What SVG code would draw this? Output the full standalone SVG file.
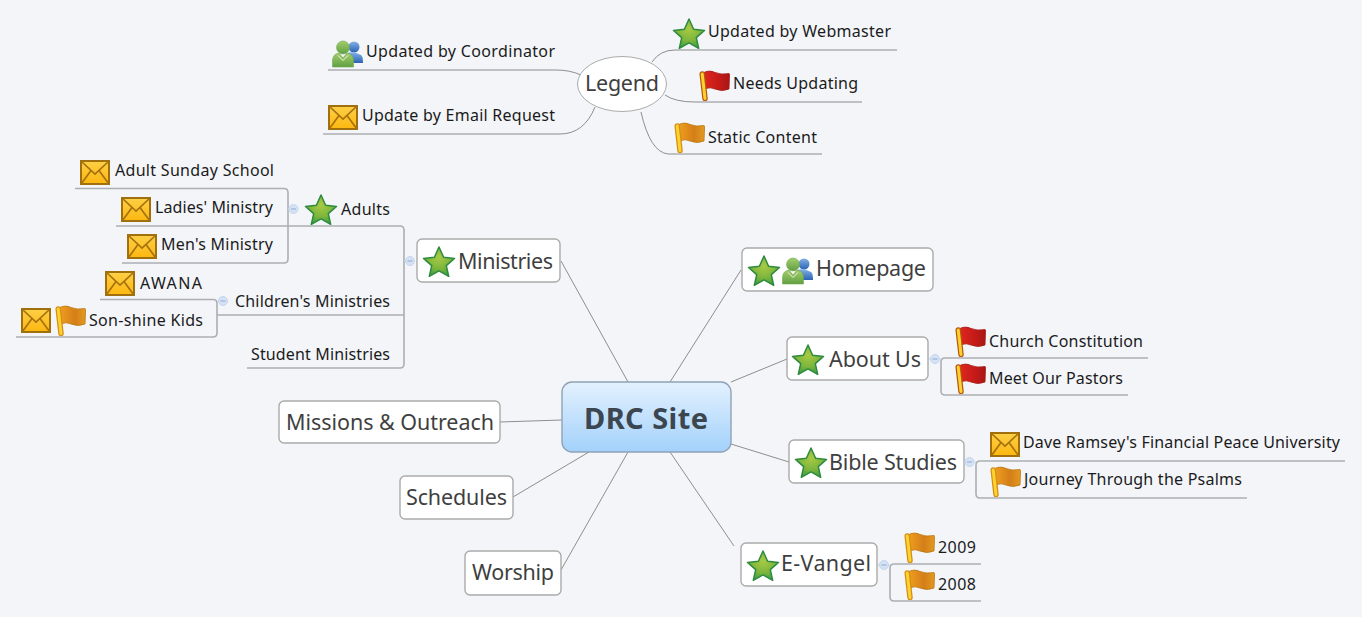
<svg xmlns="http://www.w3.org/2000/svg" width="1362" height="617" viewBox="0 0 1362 617">
<style>
text{font-family:"Noto Sans","Open Sans","Liberation Sans",sans-serif;fill:#1b1b1b;font-size:16px}
.t{font-size:21.500px;fill:#3f3f3f}
.c{font-size:29px;font-weight:700;fill:#3c4650}
.b{fill:#fff;stroke:#ababab;stroke-width:1.400}
.l{fill:none;stroke:#adaeb2;stroke-width:1.600}
.s{fill:none;stroke:#8e8e8e;stroke-width:1}
.k{fill:none;stroke:#c4d6ee;stroke-width:1}
.cl{fill:#d5e2f4;stroke:#c4d6ee;stroke-width:1}
.m{stroke:#8fa9cf;stroke-width:1}
</style>
<defs>
<linearGradient id="gc" x1="0" y1="0" x2="0" y2="1"><stop offset="0" stop-color="#e3f1fe"/><stop offset="1" stop-color="#a3d1fb"/></linearGradient>
<radialGradient id="gs" cx=".5" cy=".35" r=".65"><stop offset="0" stop-color="#a9c945"/><stop offset=".6" stop-color="#7db63c"/><stop offset="1" stop-color="#3f9f42"/></radialGradient>
<linearGradient id="ge" x1="0" y1="0" x2="0" y2="1"><stop offset="0" stop-color="#fdcf47"/><stop offset="1" stop-color="#fdb70f"/></linearGradient>
<linearGradient id="gr" x1="0" y1="0" x2="1" y2="0"><stop offset="0" stop-color="#e0281f"/><stop offset=".6" stop-color="#c41a18"/><stop offset="1" stop-color="#a91616"/></linearGradient>
<linearGradient id="go" x1="0" y1="0" x2="1" y2="0"><stop offset="0" stop-color="#f0a020"/><stop offset=".6" stop-color="#d47e18"/><stop offset="1" stop-color="#e39a22"/></linearGradient>
<linearGradient id="gp" x1="0" y1="0" x2="0" y2="1"><stop offset="0" stop-color="#a5cd6c"/><stop offset="1" stop-color="#5fa043"/></linearGradient>
<linearGradient id="gb" x1="0" y1="0" x2="0" y2="1"><stop offset="0" stop-color="#82b1e6"/><stop offset="1" stop-color="#2b62b4"/></linearGradient>
<symbol id="star" viewBox="0 0 32 32" overflow="visible"><path d="M16 1L20.600 11.200 31.500 12.400 23.300 19.600 25.700 30.300 16 24.800 6.300 30.300 8.700 19.600 .5 12.400 11.400 11.200Z" fill="url(#gs)" stroke="#2e8a3e" stroke-width="1.500" stroke-linejoin="round"/></symbol>
<symbol id="env" viewBox="0 0 30 25"><rect x="1" y="1" width="28" height="23" fill="url(#ge)" stroke="#a0700f" stroke-width="2"/><path d="M1.500 1.500L15 14 28.500 1.500M1.500 23.500L11 10.500M28.500 23.500L19 10.500" fill="none" stroke="#a5720e" stroke-width="1.700"/></symbol>
<symbol id="fr" viewBox="0 0 31 31"><path d="M4 3Q10 -.5 16 2.500Q22 5 30 3.500Q31 3.500 30.500 6L30 19Q23 22 16 19Q11 16.800 7 18.500Z" fill="url(#gr)" stroke="#a51a14" stroke-width=".8"/><path d="M6 28.500L3.200 4" stroke="#b8560f" stroke-width="5.500" stroke-linecap="round" fill="none"/><path d="M6 28.500L3.200 4" stroke="#fcd22e" stroke-width="3" stroke-linecap="round" fill="none"/></symbol>
<symbol id="fo" viewBox="0 0 31 31"><path d="M4 3Q10 -.5 16 2.500Q22 5 30 3.500Q31 3.500 30.500 6L30 19Q23 22 16 19Q11 16.800 7 18.500Z" fill="url(#go)" stroke="#b9770f" stroke-width=".8"/><path d="M6 28.500L3.200 4" stroke="#d58d14" stroke-width="5.500" stroke-linecap="round" fill="none"/><path d="M6 28.500L3.200 4" stroke="#fcd22e" stroke-width="3" stroke-linecap="round" fill="none"/></symbol>
<symbol id="ppl" viewBox="0 0 31 28"><circle cx="22" cy="7" r="5.500" fill="url(#gb)"/><path d="M15 13Q22 11 29 15Q31 16 31 23L19 23Z" fill="url(#gb)"/><circle cx="11" cy="7.500" r="6.500" fill="url(#gp)" stroke="#6fa84a" stroke-width=".6"/><path d="M.5 27L.5 20Q1 14 7 13L11 18 15 13Q21 14 21.500 20L21.500 27Z" fill="url(#gp)" stroke="#6fa84a" stroke-width=".6"/><path d="M6 15.500L11 20.500 16 15.500" fill="none" stroke="#eef5e0" stroke-width="1"/></symbol>
</defs>
<rect width="1362" height="617" fill="#f3f5f9"/>
<g id="connectors">
<path class="s" d="M628 382L561 261M670 382L741 270M731 382L787 359M731 444L789 462M670 452L734 546M628 452L561 570M589 452L513 497M562 420L500 422"/>
<path class="l" d="M75 188.500H284Q288 188.500 288 192.500V259Q288 263 284 263H122"/>
<path class="l" d="M116 226H400Q404 226 404 230V364Q404 368 400 368H247"/>
<path class="l" d="M217 315H404"/>
<path class="l" d="M100 299.500H213Q217 299.500 217 303.500V333Q217 337 213 337H16"/>
<path class="l" d="M1148 358H945Q941 358 941 362V391Q941 395 945 395H1128"/>
<path class="l" d="M1345 461H980Q976 461 976 465V494Q976 498 980 498H1247"/>
<path class="l" d="M981 564H894Q890 564 890 568V597Q890 601 894 601H981"/>
<path class="l" d="M328 70H556"/><path class="s" d="M556 70Q570 70 581 75"/>
<path class="l" d="M323 134H560"/><path class="s" d="M560 134Q584 134 595 107"/>
<path class="l" d="M897 50H675"/><path class="s" d="M675 50Q660 50 652 62"/>
<path class="l" d="M862 102H695"/><path class="s" d="M695 102Q675 102 665 95"/>
<path class="l" d="M822 154H668"/><path class="s" d="M668 154Q650 152 641 112"/>
<path class="k" d="M288 209H298M404 261H415M217 301H228M928 359H941M964 462H976M877 565H890"/>
</g>
<g id="drc-site"><rect x="562" y="382" width="169" height="70" rx="10" fill="url(#gc)" stroke="#8fa3b5" stroke-width="1.400"/><text class="c" x="646" y="429" text-anchor="middle" textLength="124">DRC Site</text></g>
<g id="ministries"><rect class="b" x="417" y="239" width="143" height="43" rx="5"/><use href="#star" x="423" y="246" width="32" height="32"/><text class="t" x="458" y="269" textLength="95">Ministries</text></g>
<g id="homepage"><rect class="b" x="742" y="248" width="191" height="43" rx="5"/><use href="#star" x="748" y="255" width="32" height="32"/><use href="#ppl" x="782" y="257" width="31" height="28"/><text class="t" x="816" y="276" textLength="110">Homepage</text></g>
<g id="about-us"><rect class="b" x="787" y="337" width="141" height="43" rx="5"/><use href="#star" x="792" y="344" width="32" height="32"/><text class="t" x="829" y="367" textLength="92">About Us</text></g>
<g id="bible-studies"><rect class="b" x="789" y="440" width="175" height="43" rx="5"/><use href="#star" x="795" y="447" width="32" height="32"/><text class="t" x="829" y="470" textLength="128">Bible Studies</text></g>
<g id="e-vangel"><rect class="b" x="741" y="543" width="136" height="43" rx="5"/><use href="#star" x="747" y="550" width="32" height="32"/><text class="t" x="781" y="571" textLength="90">E-Vangel</text></g>
<g id="missions"><rect class="b" x="279" y="401" width="221" height="42" rx="5"/><text class="t" x="286" y="430" textLength="208">Missions &amp; Outreach</text></g>
<g id="schedules"><rect class="b" x="400" y="476" width="113" height="43" rx="5"/><text class="t" x="406" y="505" textLength="101">Schedules</text></g>
<g id="worship"><rect class="b" x="465" y="551" width="96" height="44" rx="5"/><text class="t" x="472" y="580" textLength="82">Worship</text></g>
<g id="legend"><ellipse class="b" cx="622" cy="84" rx="44.500" ry="27.500" style="stroke-width:1"/><text class="t" x="585" y="91" textLength="74">Legend</text></g>
<g id="updated-by-coordinator"><use href="#ppl" x="332" y="40" width="31" height="28"/><text x="366" y="57" textLength="189">Updated by Coordinator</text></g>
<g id="update-by-email"><use href="#env" x="328" y="105" width="30" height="25"/><text x="362" y="121" textLength="193">Update by Email Request</text></g>
<g id="updated-by-webmaster"><use href="#star" x="673" y="18" width="32" height="32"/><text x="708" y="37" textLength="183">Updated by Webmaster</text></g>
<g id="needs-updating"><use href="#fr" x="699" y="70" width="31" height="31"/><text x="733" y="89" textLength="125">Needs Updating</text></g>
<g id="static-content"><use href="#fo" x="674" y="122" width="31" height="31"/><text x="708" y="143" textLength="109">Static Content</text></g>
<g id="adults"><use href="#star" x="305" y="194" width="32" height="32"/><text x="341" y="215" textLength="49">Adults</text></g>
<g id="adult-sunday-school"><use href="#env" x="80" y="160" width="30" height="25"/><text x="115" y="176" textLength="159">Adult Sunday School</text></g>
<g id="ladies-ministry"><use href="#env" x="121" y="197" width="30" height="25"/><text x="155" y="213" textLength="118">Ladies' Ministry</text></g>
<g id="mens-ministry"><use href="#env" x="127" y="234" width="30" height="25"/><text x="161" y="250" textLength="112">Men's Ministry</text></g>
<g id="awana"><use href="#env" x="105" y="271" width="30" height="25"/><text x="140" y="289" textLength="62">AWANA</text></g>
<g id="childrens-ministries"><text x="235" y="307" textLength="155">Children's Ministries</text></g>
<g id="son-shine-kids"><use href="#env" x="21" y="308" width="30" height="25"/><use href="#fo" x="55" y="305" width="31" height="31"/><text x="89" y="326" textLength="114">Son-shine Kids</text></g>
<g id="student-ministries"><text x="251" y="360" textLength="139">Student Ministries</text></g>
<g id="church-constitution"><use href="#fr" x="955" y="326" width="31" height="31"/><text x="989" y="347" textLength="154">Church Constitution</text></g>
<g id="meet-our-pastors"><use href="#fr" x="955" y="363" width="31" height="31"/><text x="989" y="384" textLength="134">Meet Our Pastors</text></g>
<g id="dave-ramsey"><use href="#env" x="990" y="432" width="30" height="25"/><text x="1023" y="448" textLength="317">Dave Ramsey's Financial Peace University</text></g>
<g id="journey"><use href="#fo" x="990" y="466" width="31" height="31"/><text x="1024" y="485" textLength="218">Journey Through the Psalms</text></g>
<g id="y2009"><use href="#fo" x="904" y="532" width="31" height="31"/><text x="938" y="553" textLength="38">2009</text></g>
<g id="y2008"><use href="#fo" x="904" y="569" width="31" height="31"/><text x="938" y="590" textLength="38">2008</text></g>
<g id="collapse-markers">
<circle class="cl" cx="293.500" cy="209" r="4.500"/><path class="m" d="M291 209H296"/>
<circle class="cl" cx="410" cy="261" r="4.500"/><path class="m" d="M407.500 261H412.500"/>
<circle class="cl" cx="223" cy="301" r="4.500"/><path class="m" d="M220.500 301H225.500"/>
<circle class="cl" cx="935" cy="359" r="4.500"/><path class="m" d="M932.500 359H937.500"/>
<circle class="cl" cx="969.500" cy="462" r="4.500"/><path class="m" d="M967 462H972"/>
<circle class="cl" cx="884" cy="565" r="4.500"/><path class="m" d="M881.500 565H886.500"/>
</g>
</svg>
